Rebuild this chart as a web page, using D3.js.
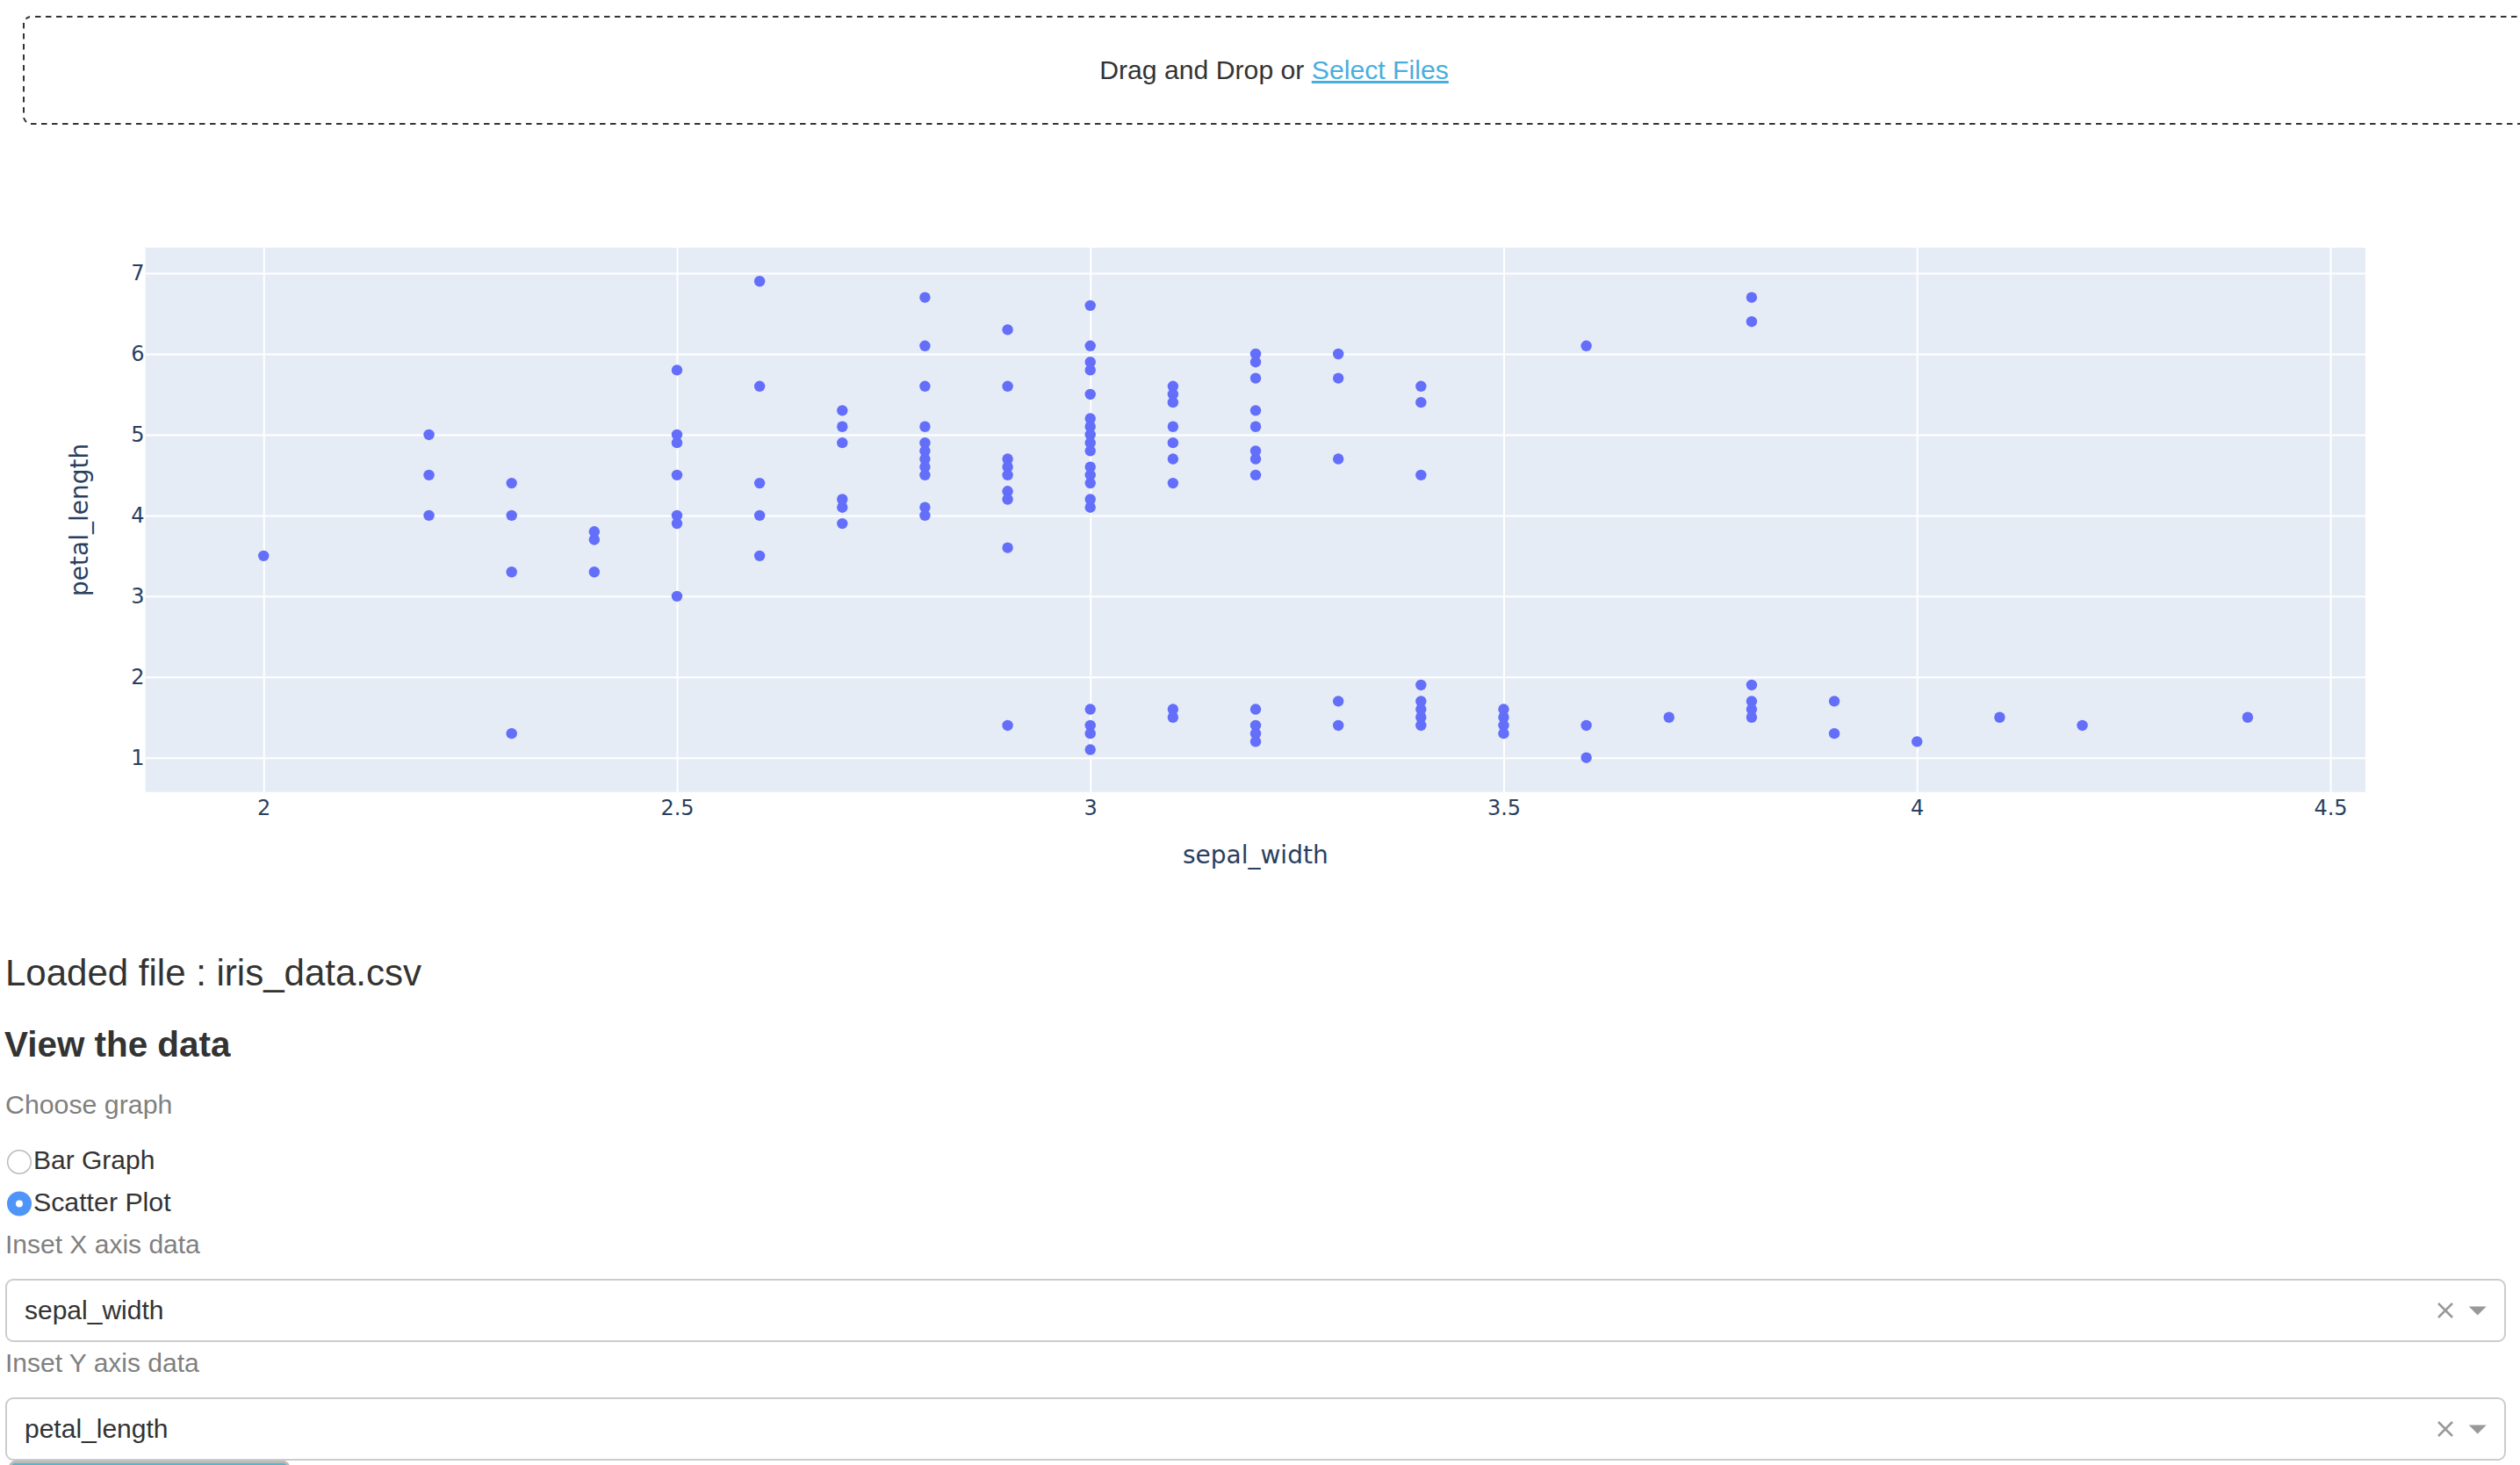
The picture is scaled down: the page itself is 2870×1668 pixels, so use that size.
<!DOCTYPE html>
<html>
<head>
<meta charset="utf-8">
<script src="https://cdnjs.cloudflare.com/ajax/libs/d3/7.8.5/d3.min.js"></script>
<style>
  html, body { margin: 0; padding: 0; background: #fff; overflow: hidden; }
  svg { display: block; }
  .page-text { font-family: "Liberation Sans", Arial, sans-serif; }
  .plot-text { font-family: "DejaVu Sans", Verdana, sans-serif; fill: #2a3f5f; }
</style>
</head>
<body>
<div id="page"></div>
<script>
// sepal_width values, and the petal_length values seen at each of them
const sepalWidths = [2, 2.2, 2.3, 2.4, 2.5, 2.6, 2.7, 2.8, 2.9, 3, 3.1, 3.2, 3.3, 3.4, 3.5, 3.6, 3.7, 3.8, 3.9, 4, 4.1, 4.2, 4.4];
const petalLengths = [
  [3.5],
  [5, 4.5, 4],
  [4.4, 4, 3.3, 1.3],
  [3.8, 3.7, 3.3],
  [5.8, 5, 4.9, 4.5, 4, 3.9, 3],
  [6.9, 5.6, 4.4, 4, 3.5],
  [5.3, 5.1, 4.9, 4.2, 4.1, 3.9],
  [6.7, 6.1, 5.6, 5.1, 4.9, 4.8, 4.7, 4.6, 4.5, 4.1, 4],
  [6.3, 5.6, 4.7, 4.6, 4.5, 4.3, 4.2, 3.6, 1.4],
  [6.6, 6.1, 5.9, 5.8, 5.5, 5.2, 5.1, 5, 4.9, 4.8, 4.6, 4.5, 4.4, 4.2, 4.1, 1.6, 1.4, 1.3, 1.1],
  [5.6, 5.5, 5.4, 5.1, 4.9, 4.7, 4.4, 1.6, 1.5],
  [6, 5.9, 5.7, 5.3, 5.1, 4.8, 4.7, 4.5, 1.6, 1.4, 1.3, 1.2],
  [6, 5.7, 4.7, 1.7, 1.4],
  [5.6, 5.4, 4.5, 1.9, 1.7, 1.6, 1.5, 1.4],
  [1.6, 1.5, 1.4, 1.3],
  [6.1, 1.4, 1],
  [1.5],
  [6.7, 6.4, 1.9, 1.7, 1.6, 1.5],
  [1.7, 1.3],
  [1.2],
  [1.5],
  [1.4],
  [1.5]
];
const xTicks = [2, 2.5, 3, 3.5, 4, 4.5];
const yTicks = [1, 2, 3, 4, 5, 6, 7];
const xRange = [1.857, 4.5425];
const yRange = [0.576, 7.316];

const width = 2870, height = 1668;
const plot = { left: 165.6, right: 2694, top: 282, bottom: 901.7 };

const svg = d3.select('#page').append('svg')
  .attr('width', width)
  .attr('height', height)
  .attr('viewBox', `0 0 ${width} ${height}`);

/* ===== upload box ===== */
// sides are drawn one by one so the dashes start where they do in the original
[
  'M40,19L2870,19',
  'M27,26L27,131',
  'M35,141L2870,141',
  'M29.5,21.5Q31,20 34,19',
  'M27,134Q28,137 30,139'
].forEach((d, i) => {
  svg.append('path')
    .attr('d', d)
    .attr('fill', 'none')
    .attr('stroke', '#333')
    .attr('stroke-width', 2)
    .attr('stroke-dasharray', i < 3 ? '6.5 5.5' : null);
});

const upload = svg.append('text')
  .attr('class', 'page-text')
  .attr('x', 1451).attr('y', 90)
  .attr('text-anchor', 'middle')
  .style('font-size', '30.2px')
  .style('fill', '#333');
upload.append('tspan').text('Drag and Drop or ');
upload.append('tspan').text('Select Files')
  .style('fill', '#4aaedd')
  .style('text-decoration', 'underline');

/* ===== scatter plot ===== */
const x = d3.scaleLinear().domain(xRange).range([plot.left, plot.right]);
const y = d3.scaleLinear().domain(yRange).range([plot.bottom, plot.top]);

svg.append('rect')
  .attr('x', plot.left).attr('y', plot.top)
  .attr('width', plot.right - plot.left)
  .attr('height', plot.bottom - plot.top)
  .attr('fill', '#e5ecf6');

const xAxis = svg.append('g')
  .attr('transform', `translate(0,${plot.bottom})`)
  .call(d3.axisBottom(x).tickValues(xTicks).tickFormat(d => d).tickSize(plot.bottom - plot.top).tickPadding(0));
xAxis.select('.domain').remove();
xAxis.selectAll('line')
  .attr('y2', -(plot.bottom - plot.top))
  .attr('stroke', '#fff').attr('stroke-width', 2);
xAxis.selectAll('text')
  .attr('class', 'plot-text')
  .attr('y', 9.3).attr('dy', '0.71em')
  .attr('fill', null)
  .style('font-size', '24px');

const yAxis = svg.append('g')
  .attr('transform', `translate(${plot.left},0)`)
  .call(d3.axisLeft(y).tickValues(yTicks).tickFormat(d => d).tickSize(0).tickPadding(0));
yAxis.select('.domain').remove();
yAxis.selectAll('line')
  .attr('x2', plot.right - plot.left)
  .attr('stroke', '#fff').attr('stroke-width', 2);
yAxis.selectAll('text')
  .attr('class', 'plot-text')
  .attr('x', -1)
  .attr('fill', null)
  .style('font-size', '24px');

svg.append('text')
  .attr('class', 'plot-text')
  .attr('x', (plot.left + plot.right) / 2).attr('y', 983)
  .attr('text-anchor', 'middle')
  .style('font-size', '28px')
  .text('sepal_width');

svg.append('text')
  .attr('class', 'plot-text')
  .attr('transform', `translate(100,${(plot.top + plot.bottom) / 2}) rotate(-90)`)
  .attr('text-anchor', 'middle')
  .style('font-size', '28px')
  .text('petal_length');

const points = sepalWidths.flatMap((w, i) => petalLengths[i].map(p => ({ w, p })));
svg.append('g').selectAll('circle')
  .data(points)
  .join('circle')
  .attr('cx', d => x(d.w))
  .attr('cy', d => y(d.p))
  .attr('r', 6.2)
  .attr('fill', '#636efa');

/* ===== controls under the plot ===== */
function pageText(str, tx, ty, size, color, weight) {
  return svg.append('text')
    .attr('class', 'page-text')
    .attr('x', tx).attr('y', ty)
    .style('font-size', size + 'px')
    .style('fill', color)
    .style('font-weight', weight || 'normal')
    .text(str);
}

pageText('Loaded file : iris_data.csv', 6, 1122, 42, '#333');
pageText('View the data', 5, 1203, 40.4, '#333', 'bold');
pageText('Choose graph', 6, 1267.5, 30.3, '#808080');
pageText('Bar Graph', 38, 1330.5, 30, '#333');
pageText('Scatter Plot', 38, 1379, 30.3, '#333');
pageText('Inset X axis data', 6, 1426.5, 30, '#808080');
pageText('Inset Y axis data', 6, 1561.5, 30, '#808080');

svg.append('circle')
  .attr('cx', 22).attr('cy', 1323).attr('r', 13.3)
  .attr('fill', '#fff').attr('stroke', '#bbb').attr('stroke-width', 1.5);
svg.append('circle')
  .attr('cx', 22).attr('cy', 1370.5).attr('r', 14)
  .attr('fill', '#4f94f8');
svg.append('circle')
  .attr('cx', 22).attr('cy', 1370.5).attr('r', 4)
  .attr('fill', '#fff');

function dropdown(top, label) {
  svg.append('rect')
    .attr('x', 7).attr('y', top)
    .attr('width', 2846).attr('height', 70)
    .attr('rx', 8)
    .attr('fill', '#fff')
    .attr('stroke', '#ccc').attr('stroke-width', 2);
  pageText(label, 28, top + 44.5, 30, '#333');
  const cy = top + 35;
  svg.append('path')
    .attr('d', `M2777,${cy - 8}L2793,${cy + 8}M2793,${cy - 8}L2777,${cy + 8}`)
    .attr('stroke', '#999').attr('stroke-width', 2.5).attr('fill', 'none');
  svg.append('path')
    .attr('d', `M2811.7,${cy - 4.5}L2831.7,${cy - 4.5}L2821.7,${cy + 5.5}Z`)
    .attr('fill', '#999');
}
dropdown(1457, 'sepal_width');
dropdown(1592, 'petal_length');

// top edge of the button cut off by the window
svg.append('rect')
  .attr('x', 11.5).attr('y', 1664.5)
  .attr('width', 317).attr('height', 20)
  .attr('rx', 6)
  .attr('fill', '#5ab5c8')
  .attr('stroke', '#bbb').attr('stroke-width', 3);
</script>
</body>
</html>
